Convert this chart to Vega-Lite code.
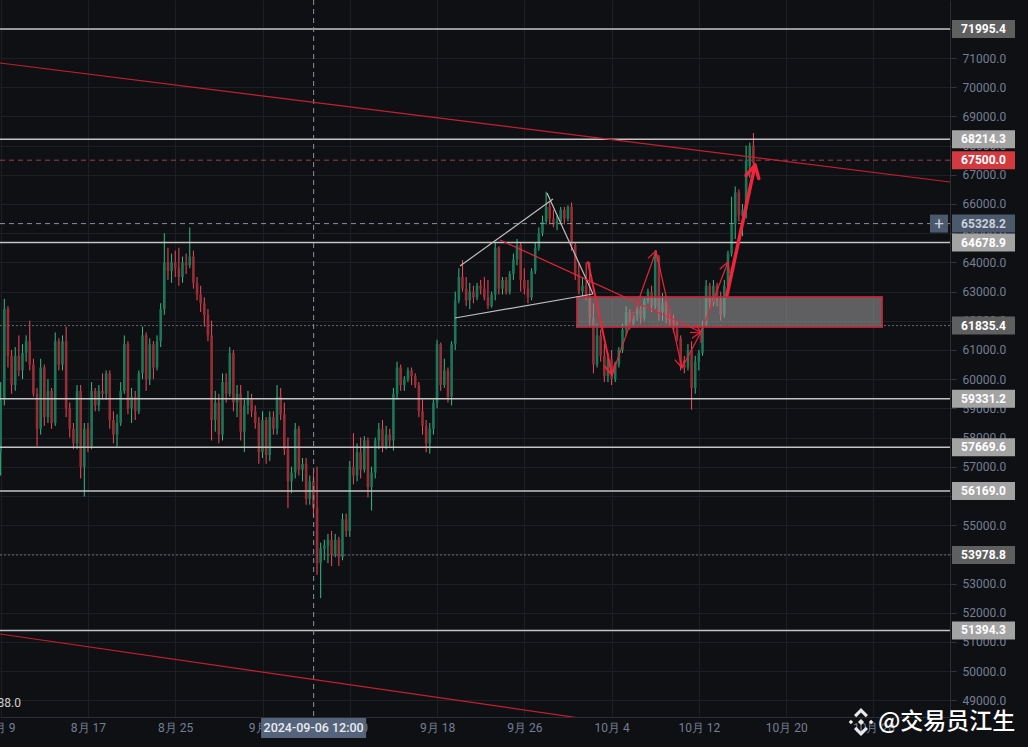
{
"$schema":"https://vega.github.io/schema/vega-lite/v6.json",
"width":950,"height":717,
"autosize":{"type":"none"},
"padding":{"left":0,"top":0,"right":78,"bottom":30},
"background":"#0f1013",
"resolve":{"axis":{"x":"independent","y":"independent"}},
"config":{"view":{"stroke":null},"font":"Roboto",
 "scale":{"continuousPadding":0},
 "axis":{"title":null,"grid":true,"gridColor":"#1d1f24","gridWidth":1,"domainColor":"#2a2d34","labelColor":"#737f96","labelFont":"Roboto","labelFontSize":12,"tickColor":"#30343c","zindex":0,"labelOverlap":false}},
"datasets":{"candles":[
{"t":"2024-08-09T00:00","o":57500,"h":59900,"l":56700,"c":59300},
{"t":"2024-08-09T08:00","o":59300,"h":62750,"l":59100,"c":62400},
{"t":"2024-08-09T16:00","o":62400,"h":62500,"l":60400,"c":60800},
{"t":"2024-08-10T00:00","o":60800,"h":61000,"l":59500,"c":59800},
{"t":"2024-08-10T08:00","o":59800,"h":61100,"l":59600,"c":60800},
{"t":"2024-08-10T16:00","o":60800,"h":61500,"l":60100,"c":60300},
{"t":"2024-08-11T00:00","o":60300,"h":61200,"l":60000,"c":60900},
{"t":"2024-08-11T08:00","o":60900,"h":61500,"l":60600,"c":61300},
{"t":"2024-08-11T16:00","o":61300,"h":62000,"l":60300,"c":60500},
{"t":"2024-08-12T00:00","o":60500,"h":60700,"l":59400,"c":59500},
{"t":"2024-08-12T08:00","o":59500,"h":59700,"l":57700,"c":58300},
{"t":"2024-08-12T16:00","o":58300,"h":60700,"l":58100,"c":60400},
{"t":"2024-08-13T00:00","o":60400,"h":60500,"l":58400,"c":58700},
{"t":"2024-08-13T08:00","o":58700,"h":60000,"l":58500,"c":59600},
{"t":"2024-08-13T16:00","o":59600,"h":59700,"l":58300,"c":58500},
{"t":"2024-08-14T00:00","o":58500,"h":61600,"l":58400,"c":61300},
{"t":"2024-08-14T08:00","o":61300,"h":61400,"l":60300,"c":60500},
{"t":"2024-08-14T16:00","o":60500,"h":61500,"l":60300,"c":61300},
{"t":"2024-08-15T00:00","o":61300,"h":61800,"l":58700,"c":59000},
{"t":"2024-08-15T08:00","o":59000,"h":59200,"l":58000,"c":58300},
{"t":"2024-08-15T16:00","o":58300,"h":58500,"l":57600,"c":57800},
{"t":"2024-08-16T00:00","o":57800,"h":59800,"l":57600,"c":59600},
{"t":"2024-08-16T08:00","o":59600,"h":59800,"l":56600,"c":57000},
{"t":"2024-08-16T16:00","o":57000,"h":58500,"l":55980,"c":58300},
{"t":"2024-08-17T00:00","o":58300,"h":58500,"l":57500,"c":57700},
{"t":"2024-08-17T08:00","o":57700,"h":59900,"l":57600,"c":59600},
{"t":"2024-08-17T16:00","o":59600,"h":59700,"l":58900,"c":59100},
{"t":"2024-08-18T00:00","o":59100,"h":59800,"l":58900,"c":59600},
{"t":"2024-08-18T08:00","o":59600,"h":60200,"l":59300,"c":59500},
{"t":"2024-08-18T16:00","o":59500,"h":60300,"l":59300,"c":60200},
{"t":"2024-08-19T00:00","o":60200,"h":60300,"l":58300,"c":58600},
{"t":"2024-08-19T08:00","o":58600,"h":58900,"l":57800,"c":58100},
{"t":"2024-08-19T16:00","o":58100,"h":58800,"l":57700,"c":58500},
{"t":"2024-08-20T00:00","o":58500,"h":59900,"l":58400,"c":59600},
{"t":"2024-08-20T08:00","o":59600,"h":61500,"l":59500,"c":61200},
{"t":"2024-08-20T16:00","o":61200,"h":61300,"l":58800,"c":59000},
{"t":"2024-08-21T00:00","o":59000,"h":59700,"l":58500,"c":59400},
{"t":"2024-08-21T08:00","o":59400,"h":59600,"l":58600,"c":58900},
{"t":"2024-08-21T16:00","o":58900,"h":60300,"l":58800,"c":60200},
{"t":"2024-08-22T00:00","o":60200,"h":61800,"l":60000,"c":61500},
{"t":"2024-08-22T08:00","o":61500,"h":61600,"l":59600,"c":60000},
{"t":"2024-08-22T16:00","o":60000,"h":61400,"l":59800,"c":61200},
{"t":"2024-08-23T00:00","o":61200,"h":61300,"l":60000,"c":60400},
{"t":"2024-08-23T08:00","o":60400,"h":61500,"l":60300,"c":61300},
{"t":"2024-08-23T16:00","o":61300,"h":62600,"l":61100,"c":62400},
{"t":"2024-08-24T00:00","o":62400,"h":65000,"l":62200,"c":64000},
{"t":"2024-08-24T08:00","o":64000,"h":64500,"l":63400,"c":63700},
{"t":"2024-08-24T16:00","o":63700,"h":64300,"l":63300,"c":64000},
{"t":"2024-08-25T00:00","o":64000,"h":64400,"l":63500,"c":63800},
{"t":"2024-08-25T08:00","o":63800,"h":64500,"l":63200,"c":63500},
{"t":"2024-08-25T16:00","o":63500,"h":64200,"l":63300,"c":64000},
{"t":"2024-08-26T00:00","o":64000,"h":64300,"l":63600,"c":63900},
{"t":"2024-08-26T08:00","o":63900,"h":65200,"l":63800,"c":64200},
{"t":"2024-08-26T16:00","o":64200,"h":64400,"l":63100,"c":63300},
{"t":"2024-08-27T00:00","o":63300,"h":63500,"l":62700,"c":62900},
{"t":"2024-08-27T08:00","o":62900,"h":63200,"l":62300,"c":62600},
{"t":"2024-08-27T16:00","o":62600,"h":62800,"l":61800,"c":62200},
{"t":"2024-08-28T00:00","o":62200,"h":62400,"l":61300,"c":61500},
{"t":"2024-08-28T08:00","o":61500,"h":62000,"l":57900,"c":58600},
{"t":"2024-08-28T16:00","o":58600,"h":59600,"l":58200,"c":59200},
{"t":"2024-08-29T00:00","o":59200,"h":59500,"l":57800,"c":58100},
{"t":"2024-08-29T08:00","o":58100,"h":60200,"l":57900,"c":59900},
{"t":"2024-08-29T16:00","o":59900,"h":60200,"l":59200,"c":59500},
{"t":"2024-08-30T00:00","o":59500,"h":61100,"l":59400,"c":60900},
{"t":"2024-08-30T08:00","o":60900,"h":61000,"l":58900,"c":59200},
{"t":"2024-08-30T16:00","o":59200,"h":59800,"l":58700,"c":59500},
{"t":"2024-08-31T00:00","o":59500,"h":59800,"l":57900,"c":58200},
{"t":"2024-08-31T08:00","o":58200,"h":59300,"l":57500,"c":59100},
{"t":"2024-08-31T16:00","o":59100,"h":59600,"l":58800,"c":59300},
{"t":"2024-09-01T00:00","o":59300,"h":59500,"l":58700,"c":58900},
{"t":"2024-09-01T08:00","o":58900,"h":59100,"l":58300,"c":58500},
{"t":"2024-09-01T16:00","o":58500,"h":58700,"l":57100,"c":57500},
{"t":"2024-09-02T00:00","o":57500,"h":58900,"l":57300,"c":58600},
{"t":"2024-09-02T08:00","o":58600,"h":58700,"l":57100,"c":57400},
{"t":"2024-09-02T16:00","o":57400,"h":58900,"l":57200,"c":58700},
{"t":"2024-09-03T00:00","o":58700,"h":58900,"l":58100,"c":58300},
{"t":"2024-09-03T08:00","o":58300,"h":59800,"l":58100,"c":59400},
{"t":"2024-09-03T16:00","o":59400,"h":59700,"l":58600,"c":58800},
{"t":"2024-09-04T00:00","o":58800,"h":59200,"l":57400,"c":57600},
{"t":"2024-09-04T08:00","o":57600,"h":58000,"l":55580,"c":56500},
{"t":"2024-09-04T16:00","o":56500,"h":57000,"l":56100,"c":56800},
{"t":"2024-09-05T00:00","o":56800,"h":58500,"l":56600,"c":58300},
{"t":"2024-09-05T08:00","o":58300,"h":58400,"l":56700,"c":56900},
{"t":"2024-09-05T16:00","o":56900,"h":57300,"l":56500,"c":57100},
{"t":"2024-09-06T00:00","o":57100,"h":57300,"l":55700,"c":55900},
{"t":"2024-09-06T08:00","o":55900,"h":56700,"l":55700,"c":56500},
{"t":"2024-09-06T16:00","o":56500,"h":56800,"l":55300,"c":55600},
{"t":"2024-09-07T00:00","o":55600,"h":57000,"l":53300,"c":53700},
{"t":"2024-09-07T08:00","o":53700,"h":54400,"l":52500,"c":54200},
{"t":"2024-09-07T16:00","o":54200,"h":54500,"l":53800,"c":54300},
{"t":"2024-09-08T00:00","o":54300,"h":54700,"l":53700,"c":54500},
{"t":"2024-09-08T08:00","o":54500,"h":54800,"l":53600,"c":54000},
{"t":"2024-09-08T16:00","o":54000,"h":54700,"l":53900,"c":54500},
{"t":"2024-09-09T00:00","o":54500,"h":54600,"l":53600,"c":53900},
{"t":"2024-09-09T08:00","o":53900,"h":55400,"l":53800,"c":55200},
{"t":"2024-09-09T16:00","o":55200,"h":55400,"l":54600,"c":54800},
{"t":"2024-09-10T00:00","o":54800,"h":57200,"l":54600,"c":57000},
{"t":"2024-09-10T08:00","o":57000,"h":58150,"l":56400,"c":56700},
{"t":"2024-09-10T16:00","o":56700,"h":57800,"l":56500,"c":57500},
{"t":"2024-09-11T00:00","o":57500,"h":58000,"l":56600,"c":56900},
{"t":"2024-09-11T08:00","o":56900,"h":58050,"l":56800,"c":57900},
{"t":"2024-09-11T16:00","o":57900,"h":58000,"l":55950,"c":56300},
{"t":"2024-09-12T00:00","o":56300,"h":57000,"l":55500,"c":56800},
{"t":"2024-09-12T08:00","o":56800,"h":58000,"l":56600,"c":57900},
{"t":"2024-09-12T16:00","o":57900,"h":58500,"l":57600,"c":58300},
{"t":"2024-09-13T00:00","o":58300,"h":58600,"l":57500,"c":57700},
{"t":"2024-09-13T08:00","o":57700,"h":58400,"l":57600,"c":58100},
{"t":"2024-09-13T16:00","o":58100,"h":58300,"l":57700,"c":57900},
{"t":"2024-09-14T00:00","o":57900,"h":59700,"l":57550,"c":59500},
{"t":"2024-09-14T08:00","o":59500,"h":60600,"l":59300,"c":60400},
{"t":"2024-09-14T16:00","o":60400,"h":60500,"l":59600,"c":59800},
{"t":"2024-09-15T00:00","o":59800,"h":60100,"l":59600,"c":60000},
{"t":"2024-09-15T08:00","o":60000,"h":60400,"l":59900,"c":60300},
{"t":"2024-09-15T16:00","o":60300,"h":60400,"l":59800,"c":60100},
{"t":"2024-09-16T00:00","o":60100,"h":60200,"l":59700,"c":59800},
{"t":"2024-09-16T08:00","o":59800,"h":59900,"l":58700,"c":58900},
{"t":"2024-09-16T16:00","o":58900,"h":59300,"l":58100,"c":58400},
{"t":"2024-09-17T00:00","o":58400,"h":58600,"l":57500,"c":57800},
{"t":"2024-09-17T08:00","o":57800,"h":58500,"l":57450,"c":58300},
{"t":"2024-09-17T16:00","o":58300,"h":59300,"l":58100,"c":59200},
{"t":"2024-09-18T00:00","o":59200,"h":61350,"l":59000,"c":61200},
{"t":"2024-09-18T08:00","o":61200,"h":61250,"l":59600,"c":59800},
{"t":"2024-09-18T16:00","o":59800,"h":60700,"l":59700,"c":60300},
{"t":"2024-09-19T00:00","o":60300,"h":60400,"l":59200,"c":59400},
{"t":"2024-09-19T08:00","o":59400,"h":61300,"l":59100,"c":61200},
{"t":"2024-09-19T16:00","o":61200,"h":63000,"l":61000,"c":62700},
{"t":"2024-09-20T00:00","o":62700,"h":63800,"l":62600,"c":63500},
{"t":"2024-09-20T08:00","o":63500,"h":64080,"l":63000,"c":63100},
{"t":"2024-09-20T16:00","o":63100,"h":63500,"l":62500,"c":62700},
{"t":"2024-09-21T00:00","o":62700,"h":63300,"l":62400,"c":63000},
{"t":"2024-09-21T08:00","o":63000,"h":63200,"l":62600,"c":62800},
{"t":"2024-09-21T16:00","o":62800,"h":63300,"l":62700,"c":63200},
{"t":"2024-09-22T00:00","o":63200,"h":63400,"l":62900,"c":63100},
{"t":"2024-09-22T08:00","o":63100,"h":63500,"l":62700,"c":62800},
{"t":"2024-09-22T16:00","o":62800,"h":63400,"l":62400,"c":62500},
{"t":"2024-09-23T00:00","o":62500,"h":63000,"l":62450,"c":62900},
{"t":"2024-09-23T08:00","o":62900,"h":64700,"l":62700,"c":64500},
{"t":"2024-09-23T16:00","o":64500,"h":64550,"l":62900,"c":63100},
{"t":"2024-09-24T00:00","o":63100,"h":63500,"l":62900,"c":63400},
{"t":"2024-09-24T08:00","o":63400,"h":63500,"l":62900,"c":63000},
{"t":"2024-09-24T16:00","o":63000,"h":63700,"l":62900,"c":63600},
{"t":"2024-09-25T00:00","o":63600,"h":64300,"l":63400,"c":64100},
{"t":"2024-09-25T08:00","o":64100,"h":64800,"l":63900,"c":64600},
{"t":"2024-09-25T16:00","o":64600,"h":64700,"l":63000,"c":63400},
{"t":"2024-09-26T00:00","o":63400,"h":63800,"l":62900,"c":63100},
{"t":"2024-09-26T08:00","o":63100,"h":63400,"l":62600,"c":62800},
{"t":"2024-09-26T16:00","o":62800,"h":63800,"l":62700,"c":63700},
{"t":"2024-09-27T00:00","o":63700,"h":64700,"l":63600,"c":64500},
{"t":"2024-09-27T08:00","o":64500,"h":65200,"l":64400,"c":65000},
{"t":"2024-09-27T16:00","o":65000,"h":65600,"l":64900,"c":65400},
{"t":"2024-09-28T00:00","o":65400,"h":66420,"l":65300,"c":65900},
{"t":"2024-09-28T08:00","o":65900,"h":66100,"l":65300,"c":65500},
{"t":"2024-09-28T16:00","o":65500,"h":65800,"l":65200,"c":65300},
{"t":"2024-09-29T00:00","o":65300,"h":65600,"l":65100,"c":65400},
{"t":"2024-09-29T08:00","o":65400,"h":65900,"l":65300,"c":65800},
{"t":"2024-09-29T16:00","o":65800,"h":65900,"l":65300,"c":65500},
{"t":"2024-09-30T00:00","o":65500,"h":65950,"l":65400,"c":65900},
{"t":"2024-09-30T08:00","o":65900,"h":66050,"l":64400,"c":64600},
{"t":"2024-09-30T16:00","o":64600,"h":64700,"l":63400,"c":63600},
{"t":"2024-10-01T00:00","o":63600,"h":64000,"l":62900,"c":63000},
{"t":"2024-10-01T08:00","o":63000,"h":63500,"l":62800,"c":63200},
{"t":"2024-10-01T16:00","o":63200,"h":64000,"l":62700,"c":62800},
{"t":"2024-10-02T00:00","o":62800,"h":64000,"l":61800,"c":62100},
{"t":"2024-10-02T08:00","o":62100,"h":62600,"l":60200,"c":60500},
{"t":"2024-10-02T16:00","o":60500,"h":61900,"l":60400,"c":61500},
{"t":"2024-10-03T00:00","o":61500,"h":61700,"l":60600,"c":60800},
{"t":"2024-10-03T08:00","o":60800,"h":61200,"l":59900,"c":60100},
{"t":"2024-10-03T16:00","o":60100,"h":60900,"l":59900,"c":60700},
{"t":"2024-10-04T00:00","o":60700,"h":61000,"l":59800,"c":60000},
{"t":"2024-10-04T08:00","o":60000,"h":60600,"l":59900,"c":60500},
{"t":"2024-10-04T16:00","o":60500,"h":61100,"l":60400,"c":61000},
{"t":"2024-10-05T00:00","o":61000,"h":61900,"l":60900,"c":61700},
{"t":"2024-10-05T08:00","o":61700,"h":62500,"l":61500,"c":62300},
{"t":"2024-10-05T16:00","o":62300,"h":62400,"l":61700,"c":61900},
{"t":"2024-10-06T00:00","o":61900,"h":62300,"l":61800,"c":62200},
{"t":"2024-10-06T08:00","o":62200,"h":62500,"l":62000,"c":62400},
{"t":"2024-10-06T16:00","o":62400,"h":62500,"l":61900,"c":62100},
{"t":"2024-10-07T00:00","o":62100,"h":62800,"l":62000,"c":62700},
{"t":"2024-10-07T08:00","o":62700,"h":63100,"l":62600,"c":63000},
{"t":"2024-10-07T16:00","o":63000,"h":63200,"l":62300,"c":62500},
{"t":"2024-10-08T00:00","o":62500,"h":64420,"l":62400,"c":64200},
{"t":"2024-10-08T08:00","o":64200,"h":64250,"l":62000,"c":62300},
{"t":"2024-10-08T16:00","o":62300,"h":62950,"l":62000,"c":62600},
{"t":"2024-10-09T00:00","o":62600,"h":62700,"l":61900,"c":62100},
{"t":"2024-10-09T08:00","o":62100,"h":62400,"l":61800,"c":62000},
{"t":"2024-10-09T16:00","o":62000,"h":62200,"l":61600,"c":61700},
{"t":"2024-10-10T00:00","o":61700,"h":62000,"l":61300,"c":61400},
{"t":"2024-10-10T08:00","o":61400,"h":61500,"l":60300,"c":60500},
{"t":"2024-10-10T16:00","o":60500,"h":60800,"l":60200,"c":60400},
{"t":"2024-10-11T00:00","o":60400,"h":61200,"l":60300,"c":61000},
{"t":"2024-10-11T08:00","o":61000,"h":61300,"l":58950,"c":59700},
{"t":"2024-10-11T16:00","o":59700,"h":60800,"l":59500,"c":60600},
{"t":"2024-10-12T00:00","o":60600,"h":61000,"l":60300,"c":60900},
{"t":"2024-10-12T08:00","o":60900,"h":62000,"l":60800,"c":61900},
{"t":"2024-10-12T16:00","o":61900,"h":63400,"l":61800,"c":63200},
{"t":"2024-10-13T00:00","o":63200,"h":63300,"l":62400,"c":62600},
{"t":"2024-10-13T08:00","o":62600,"h":63400,"l":62500,"c":63200},
{"t":"2024-10-13T16:00","o":63200,"h":63300,"l":62500,"c":62700},
{"t":"2024-10-14T00:00","o":62700,"h":63000,"l":62000,"c":62200},
{"t":"2024-10-14T08:00","o":62200,"h":63400,"l":62100,"c":63200},
{"t":"2024-10-14T16:00","o":63200,"h":64400,"l":63100,"c":64300},
{"t":"2024-10-15T00:00","o":64300,"h":66250,"l":64200,"c":65300},
{"t":"2024-10-15T08:00","o":65300,"h":66600,"l":64800,"c":66400},
{"t":"2024-10-15T16:00","o":66400,"h":66500,"l":65400,"c":65600},
{"t":"2024-10-16T00:00","o":65600,"h":66000,"l":64900,"c":65800},
{"t":"2024-10-16T08:00","o":65800,"h":68000,"l":65500,"c":67500},
{"t":"2024-10-16T16:00","o":67300,"h":68100,"l":66900,"c":68000},
{"t":"2024-10-17T00:00","o":68000,"h":68430,"l":67300,"c":67400}
]},
"layer":[
{"data":{"name":"candles"},"mark":{"type":"rule","strokeWidth":1},
 "encoding":{
  "x":{"field":"t","type":"temporal","scale":{"domain":[{"year":2024,"month":8,"date":8,"hours":22,"minutes":30},{"year":2024,"month":11,"date":4,"hours":0,"minutes":30}],"nice":false,"padding":0},
   "axis":{"values":[{"year":2024,"month":8,"date":9},{"year":2024,"month":8,"date":17},{"year":2024,"month":8,"date":25},{"year":2024,"month":9,"date":2},{"year":2024,"month":9,"date":10},{"year":2024,"month":9,"date":18},{"year":2024,"month":9,"date":26},{"year":2024,"month":10,"date":4},{"year":2024,"month":10,"date":12},{"year":2024,"month":10,"date":20},{"year":2024,"month":10,"date":28}],
    "labelExpr":"(month(datum.value)+1) + '月 ' + date(datum.value)","labelFlush":false,"labelOverlap":false,"ticks":false,"labelPadding":5,"zindex":0}},
  "y":{"field":"l","type":"quantitative","scale":{"domain":[48429.25,72986.5],"nice":false,"zero":false,"padding":0},
   "axis":{"orient":"right","values":[49000,50000,51000,52000,53000,54000,55000,56000,57000,58000,59000,60000,61000,62000,63000,64000,65000,66000,67000,68000,69000,70000,71000,72000],"format":".1f","tickSize":6,"labelPadding":6,"labelOverlap":false,"labelBound":false,"labelSeparation":0,"zindex":0}},
  "y2":{"field":"h"},
  "color":{"condition":{"test":"datum.c >= datum.o","value":"#2ebd85"},"value":"#f6465d"}}},
{"data":{"name":"candles"},"mark":{"type":"bar","width":2.6},
 "encoding":{
  "x":{"field":"t","type":"temporal","axis":null},
  "y":{"field":"o","type":"quantitative","axis":null},
  "y2":{"field":"c"},
  "color":{"condition":{"test":"datum.c >= datum.o","value":"#1d7658"},"value":"#962f35"}}},
{"data":{"values":[{"t":"2024-09-30T19:54","t2":"2024-10-28T18:54","p":62814,"p2":61787}]},
 "mark":{"type":"rect","fill":"#9a9a9a","fillOpacity":0.58,"stroke":"#c0283a","strokeWidth":2,"strokeOpacity":0.9},
 "encoding":{"x":{"field":"t","type":"temporal","axis":null},"x2":{"field":"t2"},"y":{"field":"p","type":"quantitative","axis":null},"y2":{"field":"p2"}}},
{"data":{"values":[{"p":71995.4},{"p":68214.3},{"p":64678.9},{"p":59331.2},{"p":57669.6},{"p":56169.0},{"p":51394.3}]},
 "mark":{"type":"rule","color":"#c4c4c4","strokeWidth":1.5},
 "encoding":{"y":{"field":"p","type":"quantitative","axis":null}}},
{"data":{"values":[{"p":65328.2}]},
 "mark":{"type":"rule","color":"#8b909b","strokeWidth":1,"strokeDash":[5,4]},
 "encoding":{"y":{"field":"p","type":"quantitative","axis":null}}},
{"data":{"values":[{"p":67500}]},
 "mark":{"type":"rule","color":"#9a3f48","strokeWidth":1,"strokeDash":[5,4]},
 "encoding":{"y":{"field":"p","type":"quantitative","axis":null}}},
{"data":{"values":[{"p":61835.4},{"p":53978.8}]},
 "mark":{"type":"rule","color":"#6b6b6b","strokeWidth":1,"strokeDash":[2,2]},
 "encoding":{"y":{"field":"p","type":"quantitative","axis":null}}},
{"data":{"values":[{"t":"2024-09-06T16:30"}]},
 "mark":{"type":"rule","color":"#8b909b","strokeWidth":1,"strokeDash":[5,4]},
 "encoding":{"x":{"field":"t","type":"temporal","axis":null}}},
{"data":{"values":[{"g":"a","t":"2024-08-08T22:30","p":70829},{"g":"a","t":"2024-11-04T00:30","p":66753},{"g":"b","t":"2024-08-08T22:30","p":51272},{"g":"b","t":"2024-10-12T02:30","p":47796}]},
 "mark":{"type":"line","color":"#c41f30","strokeWidth":1.2,"clip":true},
 "encoding":{"x":{"field":"t","type":"temporal","axis":null},"y":{"field":"p","type":"quantitative","axis":null},"detail":{"field":"g"}}},
{"data":{"values":[
  {"g":"t1","n":0,"t":"2024-09-20T02:30","p":63876},{"g":"t1","n":1,"t":"2024-09-28T15:06","p":66171},
  {"g":"t2","n":0,"t":"2024-09-19T15:30","p":62095},{"g":"t2","n":1,"t":"2024-10-02T07:06","p":62917},
  {"g":"t3","n":0,"t":"2024-09-28T01:54","p":66376},{"g":"t3","n":1,"t":"2024-10-02T07:06","p":62917}]},
 "mark":{"type":"line","color":"#bdbdbd","strokeWidth":1.2},
 "encoding":{"x":{"field":"t","type":"temporal","axis":null},"y":{"field":"p","type":"quantitative","axis":null},"detail":{"field":"g"},"order":{"field":"n"}}},
{"data":{"values":[
  {"g":"R","n":0,"t":"2024-09-23T18:30","p":64767},{"g":"R","n":1,"t":"2024-10-12T04:42","p":61616},
  {"g":"Rh","n":0,"t":"2024-10-11T13:58","p":61913},{"g":"Rh","n":1,"t":"2024-10-12T04:42","p":61616},{"g":"Rh","n":2,"t":"2024-10-11T04:30","p":61595},
  {"g":"B","n":0,"t":"2024-10-04T00:54","p":60143},{"g":"B","n":1,"t":"2024-10-08T01:42","p":64390},
  {"g":"Bh","n":0,"t":"2024-10-07T07:53","p":64136},{"g":"Bh","n":1,"t":"2024-10-08T01:42","p":64390},{"g":"Bh","n":2,"t":"2024-10-08T05:13","p":64017},
  {"g":"C","n":0,"t":"2024-10-08T01:42","p":64390},{"g":"C","n":1,"t":"2024-10-10T10:54","p":60383},
  {"g":"Ch","n":0,"t":"2024-10-10T17:17","p":60746},{"g":"Ch","n":1,"t":"2024-10-10T10:54","p":60383},{"g":"Ch","n":2,"t":"2024-10-09T19:04","p":60670},
  {"g":"D","n":0,"t":"2024-10-10T10:54","p":60383},{"g":"D","n":1,"t":"2024-10-12T04:42","p":61616},
  {"g":"Dh","n":0,"t":"2024-10-11T08:41","p":61403},{"g":"Dh","n":1,"t":"2024-10-12T04:42","p":61616},{"g":"Dh","n":2,"t":"2024-10-12T04:42","p":61239},
  {"g":"E","n":0,"t":"2024-10-12T04:42","p":61616},{"g":"E","n":1,"t":"2024-10-14T16:06","p":64013},
  {"g":"Eh","n":0,"t":"2024-10-13T21:50","p":63766},{"g":"Eh","n":1,"t":"2024-10-14T16:06","p":64013},{"g":"Eh","n":2,"t":"2024-10-14T18:58","p":63640}]},
 "mark":{"type":"line","color":"#e5263a","strokeWidth":1.2},
 "encoding":{"x":{"field":"t","type":"temporal","axis":null},"y":{"field":"p","type":"quantitative","axis":null},"detail":{"field":"g"},"order":{"field":"n"}}},
{"data":{"values":[
  {"g":"A","n":0,"t":"2024-10-01T20:06","p":64013},{"g":"A","n":1,"t":"2024-10-04T00:54","p":60143},
  {"g":"Ah","n":0,"t":"2024-10-04T07:30","p":60506},{"g":"Ah","n":1,"t":"2024-10-04T00:54","p":60143},{"g":"Ah","n":2,"t":"2024-10-03T09:17","p":60430}]},
 "mark":{"type":"line","color":"#ea2439","strokeWidth":2,"strokeCap":"round"},
 "encoding":{"x":{"field":"t","type":"temporal","axis":null},"y":{"field":"p","type":"quantitative","axis":null},"detail":{"field":"g"},"order":{"field":"n"}}},
{"data":{"values":[
  {"g":"F","n":0,"t":"2024-10-14T13:54","p":62883},{"g":"F","n":1,"t":"2024-10-17T03:30","p":67335},
  {"g":"Fh","n":0,"t":"2024-10-16T07:42","p":66969},{"g":"Fh","n":1,"t":"2024-10-17T03:30","p":67335},{"g":"Fh","n":2,"t":"2024-10-17T11:52","p":66873}]},
 "mark":{"type":"line","color":"#f2233a","strokeWidth":3.5,"strokeCap":"round","strokeJoin":"round"},
 "encoding":{"x":{"field":"t","type":"temporal","axis":null},"y":{"field":"p","type":"quantitative","axis":null},"detail":{"field":"g"},"order":{"field":"n"}}},
{"data":{"values":[{"p":71995.4,"k":"d"},{"p":68214.3,"k":"l"},{"p":67500,"k":"r"},{"p":65328.2,"k":"c"},{"p":64678.9,"k":"l"},{"p":61835.4,"k":"d"},{"p":59331.2,"k":"l"},{"p":57669.6,"k":"l"},{"p":56169.0,"k":"l"},{"p":53978.8,"k":"d"},{"p":51394.3,"k":"l"}]},
 "mark":{"type":"point","shape":"M-1,-0.2857H1V0.2857H-1Z","size":3969,"filled":true,"opacity":1},
 "encoding":{"x":{"datum":{"year":2024,"month":11,"date":7,"hours":2,"minutes":12},"type":"temporal","axis":null},"y":{"field":"p","type":"quantitative","axis":null},
  "color":{"field":"k","type":"nominal","scale":{"domain":["l","d","r","c"],"range":["#a3a3a3","#5f5f5f","#d23a40","#4c596c"]},"legend":null}}},
{"data":{"values":[{"p":71995.4,"k":"d"},{"p":68214.3,"k":"l"},{"p":67500,"k":"r"},{"p":65328.2,"k":"c"},{"p":64678.9,"k":"l"},{"p":61835.4,"k":"d"},{"p":59331.2,"k":"l"},{"p":57669.6,"k":"l"},{"p":56169.0,"k":"l"},{"p":53978.8,"k":"d"},{"p":51394.3,"k":"l"}]},
 "mark":{"type":"text","fontSize":12,"fontWeight":"bold","font":"Roboto","align":"center","baseline":"middle"},
 "encoding":{"x":{"datum":{"year":2024,"month":11,"date":7,"hours":2,"minutes":12},"type":"temporal","axis":null},"y":{"field":"p","type":"quantitative","axis":null},
  "text":{"field":"p","type":"quantitative","format":".1f"},
  "color":{"condition":{"test":"datum.k == 'c'","value":"#c9d0db"},"value":"#ffffff"}}},
{"data":{"values":[{"s":"+","p":65328.2}]},
 "mark":{"type":"point","shape":"square","size":324,"filled":true,"opacity":1,"color":"#4c596c"},
 "encoding":{"x":{"datum":{"year":2024,"month":11,"date":3,"hours":0,"minutes":18},"type":"temporal","axis":null},"y":{"field":"p","type":"quantitative","axis":null}}},
{"data":{"values":[{"s":"+","p":65328.2}]},
 "mark":{"type":"text","fontSize":17,"color":"#c9d0db","align":"center","baseline":"middle"},
 "encoding":{"x":{"datum":{"year":2024,"month":11,"date":3,"hours":0,"minutes":18},"type":"temporal","axis":null},"y":{"field":"p","type":"quantitative","axis":null},"text":{"field":"s"}}},
{"data":{"values":[{"s":"2024-09-06 12:00","p":48052.5}]},
 "mark":{"type":"point","shape":"M-1,-0.1905H1V0.1905H-1Z","size":11025,"filled":true,"opacity":1,"color":"#56647b"},
 "encoding":{"x":{"datum":{"year":2024,"month":9,"date":6,"hours":16,"minutes":30},"type":"temporal","axis":null},"y":{"field":"p","type":"quantitative","axis":null}}},
{"data":{"values":[{"s":"2024-09-06 12:00","p":48052.5}]},
 "mark":{"type":"text","fontSize":12.5,"fontWeight":500,"color":"#e8ebf0","align":"center","baseline":"middle"},
 "encoding":{"x":{"datum":{"year":2024,"month":9,"date":6,"hours":16,"minutes":30},"type":"temporal","axis":null},"y":{"field":"p","type":"quantitative","axis":null},"text":{"field":"s"}}},
{"data":{"values":[{"s":"88.0","p":48908.75}]},
 "mark":{"type":"text","fontSize":12,"color":"#cfcfcf","align":"right","baseline":"middle"},
 "encoding":{"x":{"datum":{"year":2024,"month":8,"date":10,"hours":20,"minutes":42},"type":"temporal","axis":null},"y":{"field":"p","type":"quantitative","axis":null},"text":{"field":"s"}}},
{"data":{"values":[{"s":"@交易员江生","p":48258}]},
 "mark":{"type":"point","shape":"M0,-1L0.5,-0.5L0.34,-0.34L0,-0.68L-0.34,-0.34L-0.5,-0.5Z M0,1L0.5,0.5L0.34,0.34L0,0.68L-0.34,0.34L-0.5,0.5Z M0,-0.22L0.22,0L0,0.22L-0.22,0Z M-0.72,-0.16L-0.56,0L-0.72,0.16L-0.88,0Z M0.72,-0.16L0.88,0L0.72,0.16L0.56,0Z","size":784,"filled":true,"opacity":1,"color":"#e8e8e8"},
 "encoding":{"x":{"datum":{"year":2024,"month":10,"date":26,"hours":20,"minutes":42},"type":"temporal","axis":null},"y":{"field":"p","type":"quantitative","axis":null}}},
{"data":{"values":[{"s":"@交易员江生","p":48258}]},
 "mark":{"type":"text","fontSize":23,"font":"Noto Sans CJK SC","fontWeight":500,"color":"#ffffff","align":"left","baseline":"middle"},
 "encoding":{"x":{"datum":{"year":2024,"month":10,"date":28,"hours":10,"minutes":6},"type":"temporal","axis":null},"y":{"field":"p","type":"quantitative","axis":null},"text":{"field":"s"}}}
]
}
